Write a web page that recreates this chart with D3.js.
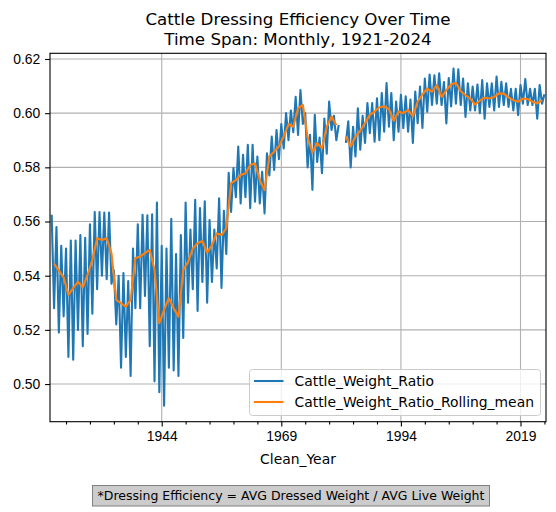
<!DOCTYPE html>
<html>
<head>
<meta charset="utf-8">
<script src="https://cdn.jsdelivr.net/npm/d3@7"></script>
<style>
  body { margin: 0; background: #ffffff; }
  svg { font-family: "DejaVu Sans", sans-serif; }
  .tick text { font-size: 13.9px; fill: #000; }
  .tick line { stroke: #000; stroke-width: 1.1; }
  .domain { display: none; }
  .grid line { stroke: #b0b0b0; stroke-width: 1.1; }
</style>
</head>
<body>
<svg id="chart" width="556" height="512"></svg>
<script>
// one value pair per year: seasonal high (early in the year) and low (mid year)
const years = d3.range(1921, 2025);

const ratioHigh = [
  0.5625, 0.558, 0.551, 0.550, 0.553, 0.553, 0.555, 0.554, 0.559, 0.5635,
  0.5635, 0.5633, 0.5633, 0.542, 0.540, 0.541, 0.538, 0.550, 0.559, 0.5625,
  0.5623, 0.5627, 0.567, 0.551, 0.550, 0.561, 0.548, 0.555, 0.567, 0.557,
  0.568, 0.565, 0.5675, 0.5605, 0.557, 0.5686, 0.564, 0.578, 0.5797, 0.5877,
  0.5846, 0.5883, 0.5883, 0.584, 0.5784, 0.5852, 0.5914, 0.5938, 0.596, 0.600,
  0.601, 0.606, 0.6085, 0.600, 0.592, 0.5994, 0.591, 0.598, 0.6043, 0.599,
  0.5957, null, 0.597, 0.595, 0.6018, 0.599, 0.6037, 0.6037, 0.6055, 0.6074,
  0.6111, 0.6074, 0.6043, 0.6068, 0.6062, 0.605, 0.608, 0.6098, 0.6128, 0.6143,
  0.614, 0.6147, 0.6115, 0.613, 0.6165, 0.6162, 0.6128, 0.611, 0.6098, 0.6106,
  0.6122, 0.611, 0.611, 0.6135, 0.6116, 0.611, 0.609, 0.609, 0.6104, 0.6126,
  0.609, 0.609, 0.6104, 0.607
];

const ratioLow = [
  0.528, 0.519, 0.525, 0.510, 0.509, 0.520, 0.514, 0.5185, 0.526, 0.535,
  0.540, 0.5387, 0.537, 0.522, 0.506, 0.510, 0.503, 0.528, 0.528, 0.5325,
  0.514, 0.501, 0.497, 0.492, 0.506, 0.505, 0.503, 0.517, 0.530, 0.535,
  0.527, 0.5377, 0.530, 0.5377, 0.5427, 0.5355, 0.548, 0.5635, 0.569, 0.5667,
  0.569, 0.5649, 0.5673, 0.5667, 0.563, 0.577, 0.579, 0.583, 0.587, 0.590,
  0.593, 0.592, 0.596, 0.580, 0.5717, 0.582, 0.5778, 0.585, 0.5938, 0.590,
  null, 0.589, 0.580, 0.584, 0.5865, 0.589, 0.5926, 0.5895, 0.590, 0.5932,
  0.595, 0.590, 0.5932, 0.5945, 0.5932, 0.589, 0.5963, 0.5945, 0.6005, 0.603,
  0.6035, 0.603, 0.5962, 0.6025, 0.6035, 0.603, 0.5986, 0.601, 0.601, 0.600,
  0.598, 0.6023, 0.601, 0.6023, 0.603, 0.6023, 0.601, 0.5993, 0.6035, 0.603,
  0.603, 0.598, 0.6035, null
];

const rollingMean = [
  0.5445, 0.5419, 0.5394, 0.5329, 0.5354, 0.5378, 0.5357, 0.5403, 0.5458, 0.5538,
  0.5532, 0.5538, 0.5483, 0.5311, 0.5298, 0.5286, 0.5311, 0.5465, 0.5471, 0.5483,
  0.5495, 0.5422, 0.5225, 0.5274, 0.5317, 0.528, 0.5249, 0.5421, 0.545, 0.550,
  0.552, 0.5528, 0.5485, 0.5513, 0.5556, 0.555, 0.5575, 0.5741, 0.5753, 0.5772,
  0.5778, 0.5809, 0.5815, 0.5753, 0.5716, 0.584, 0.5858, 0.5877, 0.5914, 0.5959,
  0.595, 0.6018, 0.6031, 0.591, 0.5855, 0.589, 0.587, 0.595, 0.5988, 0.5955,
  null, 0.5914, 0.5877, 0.5914, 0.5935, 0.5963, 0.5994, 0.6006, 0.6022, 0.6025,
  0.6015, 0.5972, 0.6006, 0.600, 0.6012, 0.5988, 0.6043, 0.6069, 0.6091, 0.6079,
  0.6104, 0.606, 0.6085, 0.6106, 0.6112, 0.6081, 0.6067, 0.6054, 0.6032, 0.6046,
  0.6057, 0.6054, 0.606, 0.6073, 0.6072, 0.6058, 0.6048, 0.6042, 0.6054, 0.6052,
  0.6042, 0.6036, 0.6048, null
];

const yTicks = [0.50, 0.52, 0.54, 0.56, 0.58, 0.60, 0.62];
const xMajorTicks = [1944, 1969, 1994, 2019];
const xMinorTicks = d3.range(1924, 2025, 5).filter(d => xMajorTicks.indexOf(d) < 0);

translate = function(a, b) {
  return "translate(" + a + ", " + b + ")";
}

const svg = d3.select("#chart");
const plotLeft = 50, plotRight = 546, plotTop = 53.3, plotBottom = 421.7;

let x = d3.scaleLinear().domain([1920.65, 2024.33]).range([plotLeft, plotRight]);
let y = d3.scaleLinear().domain([0.4861, 0.6221]).range([plotBottom, plotTop]);

// build the points
let ratioPoints = [];
years.forEach(function(yr, i) {
  ratioPoints.push({ t: yr, v: ratioHigh[i] });
  ratioPoints.push({ t: yr + 0.5, v: ratioLow[i] });
});
let meanPoints = years.map(function(yr, i) {
  return { t: yr + 0.5, v: rollingMean[i] };
});

// grid
let grid = svg.append("g").attr("class", "grid");
grid.selectAll("line.gx")
  .data(xMajorTicks)
  .enter()
  .append("line")
  .attr("x1", d => x(d)).attr("x2", d => x(d))
  .attr("y1", plotTop).attr("y2", plotBottom);
grid.selectAll("line.gy")
  .data(yTicks)
  .enter()
  .append("line")
  .attr("x1", plotLeft).attr("x2", plotRight)
  .attr("y1", d => y(d)).attr("y2", d => y(d));

// lines
svg.append("clipPath").attr("id", "clip")
  .append("rect")
  .attr("x", plotLeft).attr("y", plotTop)
  .attr("width", plotRight - plotLeft).attr("height", plotBottom - plotTop);

let line = d3.line()
  .defined(d => d.v !== null)
  .x(d => x(d.t))
  .y(d => y(d.v));

let plot = svg.append("g").attr("clip-path", "url(#clip)");
plot.append("path")
  .datum(ratioPoints)
  .attr("d", line)
  .attr("fill", "none")
  .attr("stroke", "#1f77b4")
  .attr("stroke-width", 2.1)
  .attr("stroke-linejoin", "round");
plot.append("path")
  .datum(meanPoints)
  .attr("d", line)
  .attr("fill", "none")
  .attr("stroke", "#ff7f0e")
  .attr("stroke-width", 2.1)
  .attr("stroke-linejoin", "round");

// axes
let yAxis = d3.axisLeft(y).tickValues(yTicks).tickFormat(d3.format(".2f"))
  .tickSize(4.9).tickPadding(4.9);
svg.append("g").attr("transform", translate(plotLeft, 0)).call(yAxis);

let xAxis = d3.axisBottom(x).tickValues(xMajorTicks).tickFormat(d3.format("d"))
  .tickSize(4.9).tickPadding(4.9);
svg.append("g").attr("transform", translate(0, plotBottom)).call(xAxis);

let xMinor = d3.axisBottom(x).tickValues(xMinorTicks).tickFormat("").tickSize(2.8);
svg.append("g").attr("transform", translate(0, plotBottom)).call(xMinor);

// frame
svg.append("rect")
  .attr("x", plotLeft).attr("y", plotTop)
  .attr("width", plotRight - plotLeft).attr("height", plotBottom - plotTop)
  .attr("fill", "none")
  .attr("stroke", "#000")
  .attr("stroke-width", 1.1);

// title
svg.append("text")
  .attr("x", (plotLeft + plotRight) / 2).attr("y", 25)
  .attr("text-anchor", "middle")
  .style("font-size", "16.7px")
  .text("Cattle Dressing Efficiency Over Time");
svg.append("text")
  .attr("x", (plotLeft + plotRight) / 2).attr("y", 45)
  .attr("text-anchor", "middle")
  .style("font-size", "16.7px")
  .text("Time Span: Monthly, 1921-2024");

// x label
svg.append("text")
  .attr("x", (plotLeft + plotRight) / 2).attr("y", 463.5)
  .attr("text-anchor", "middle")
  .style("font-size", "13.9px")
  .text("Clean_Year");

// legend
let legend = svg.append("g").attr("transform", translate(249.5, 369.5));
legend.append("rect")
  .attr("width", 291).attr("height", 46)
  .attr("rx", 3)
  .attr("fill", "#fff").attr("fill-opacity", 0.8)
  .attr("stroke", "#cccccc");
let legendItems = [
  { name: "Cattle_Weight_Ratio", color: "#1f77b4" },
  { name: "Cattle_Weight_Ratio_Rolling_mean", color: "#ff7f0e" }
];
legendItems.forEach(function(item, i) {
  legend.append("line")
    .attr("x1", 4.5).attr("x2", 34)
    .attr("y1", 11.5 + i * 21).attr("y2", 11.5 + i * 21)
    .attr("stroke", item.color).attr("stroke-width", 2.1);
  legend.append("text")
    .attr("x", 45).attr("y", 16.5 + i * 21)
    .style("font-size", "13.9px")
    .text(item.name);
});

// footnote
svg.append("rect")
  .attr("x", 92.5).attr("y", 485.5)
  .attr("width", 397).attr("height", 20.5)
  .attr("fill", "#cccccc")
  .attr("stroke", "#808080");
svg.append("text")
  .attr("x", 291).attr("y", 500)
  .attr("text-anchor", "middle")
  .style("font-size", "12.5px")
  .text("*Dressing Efficiency = AVG Dressed Weight / AVG Live Weight");
</script>
</body>
</html>
